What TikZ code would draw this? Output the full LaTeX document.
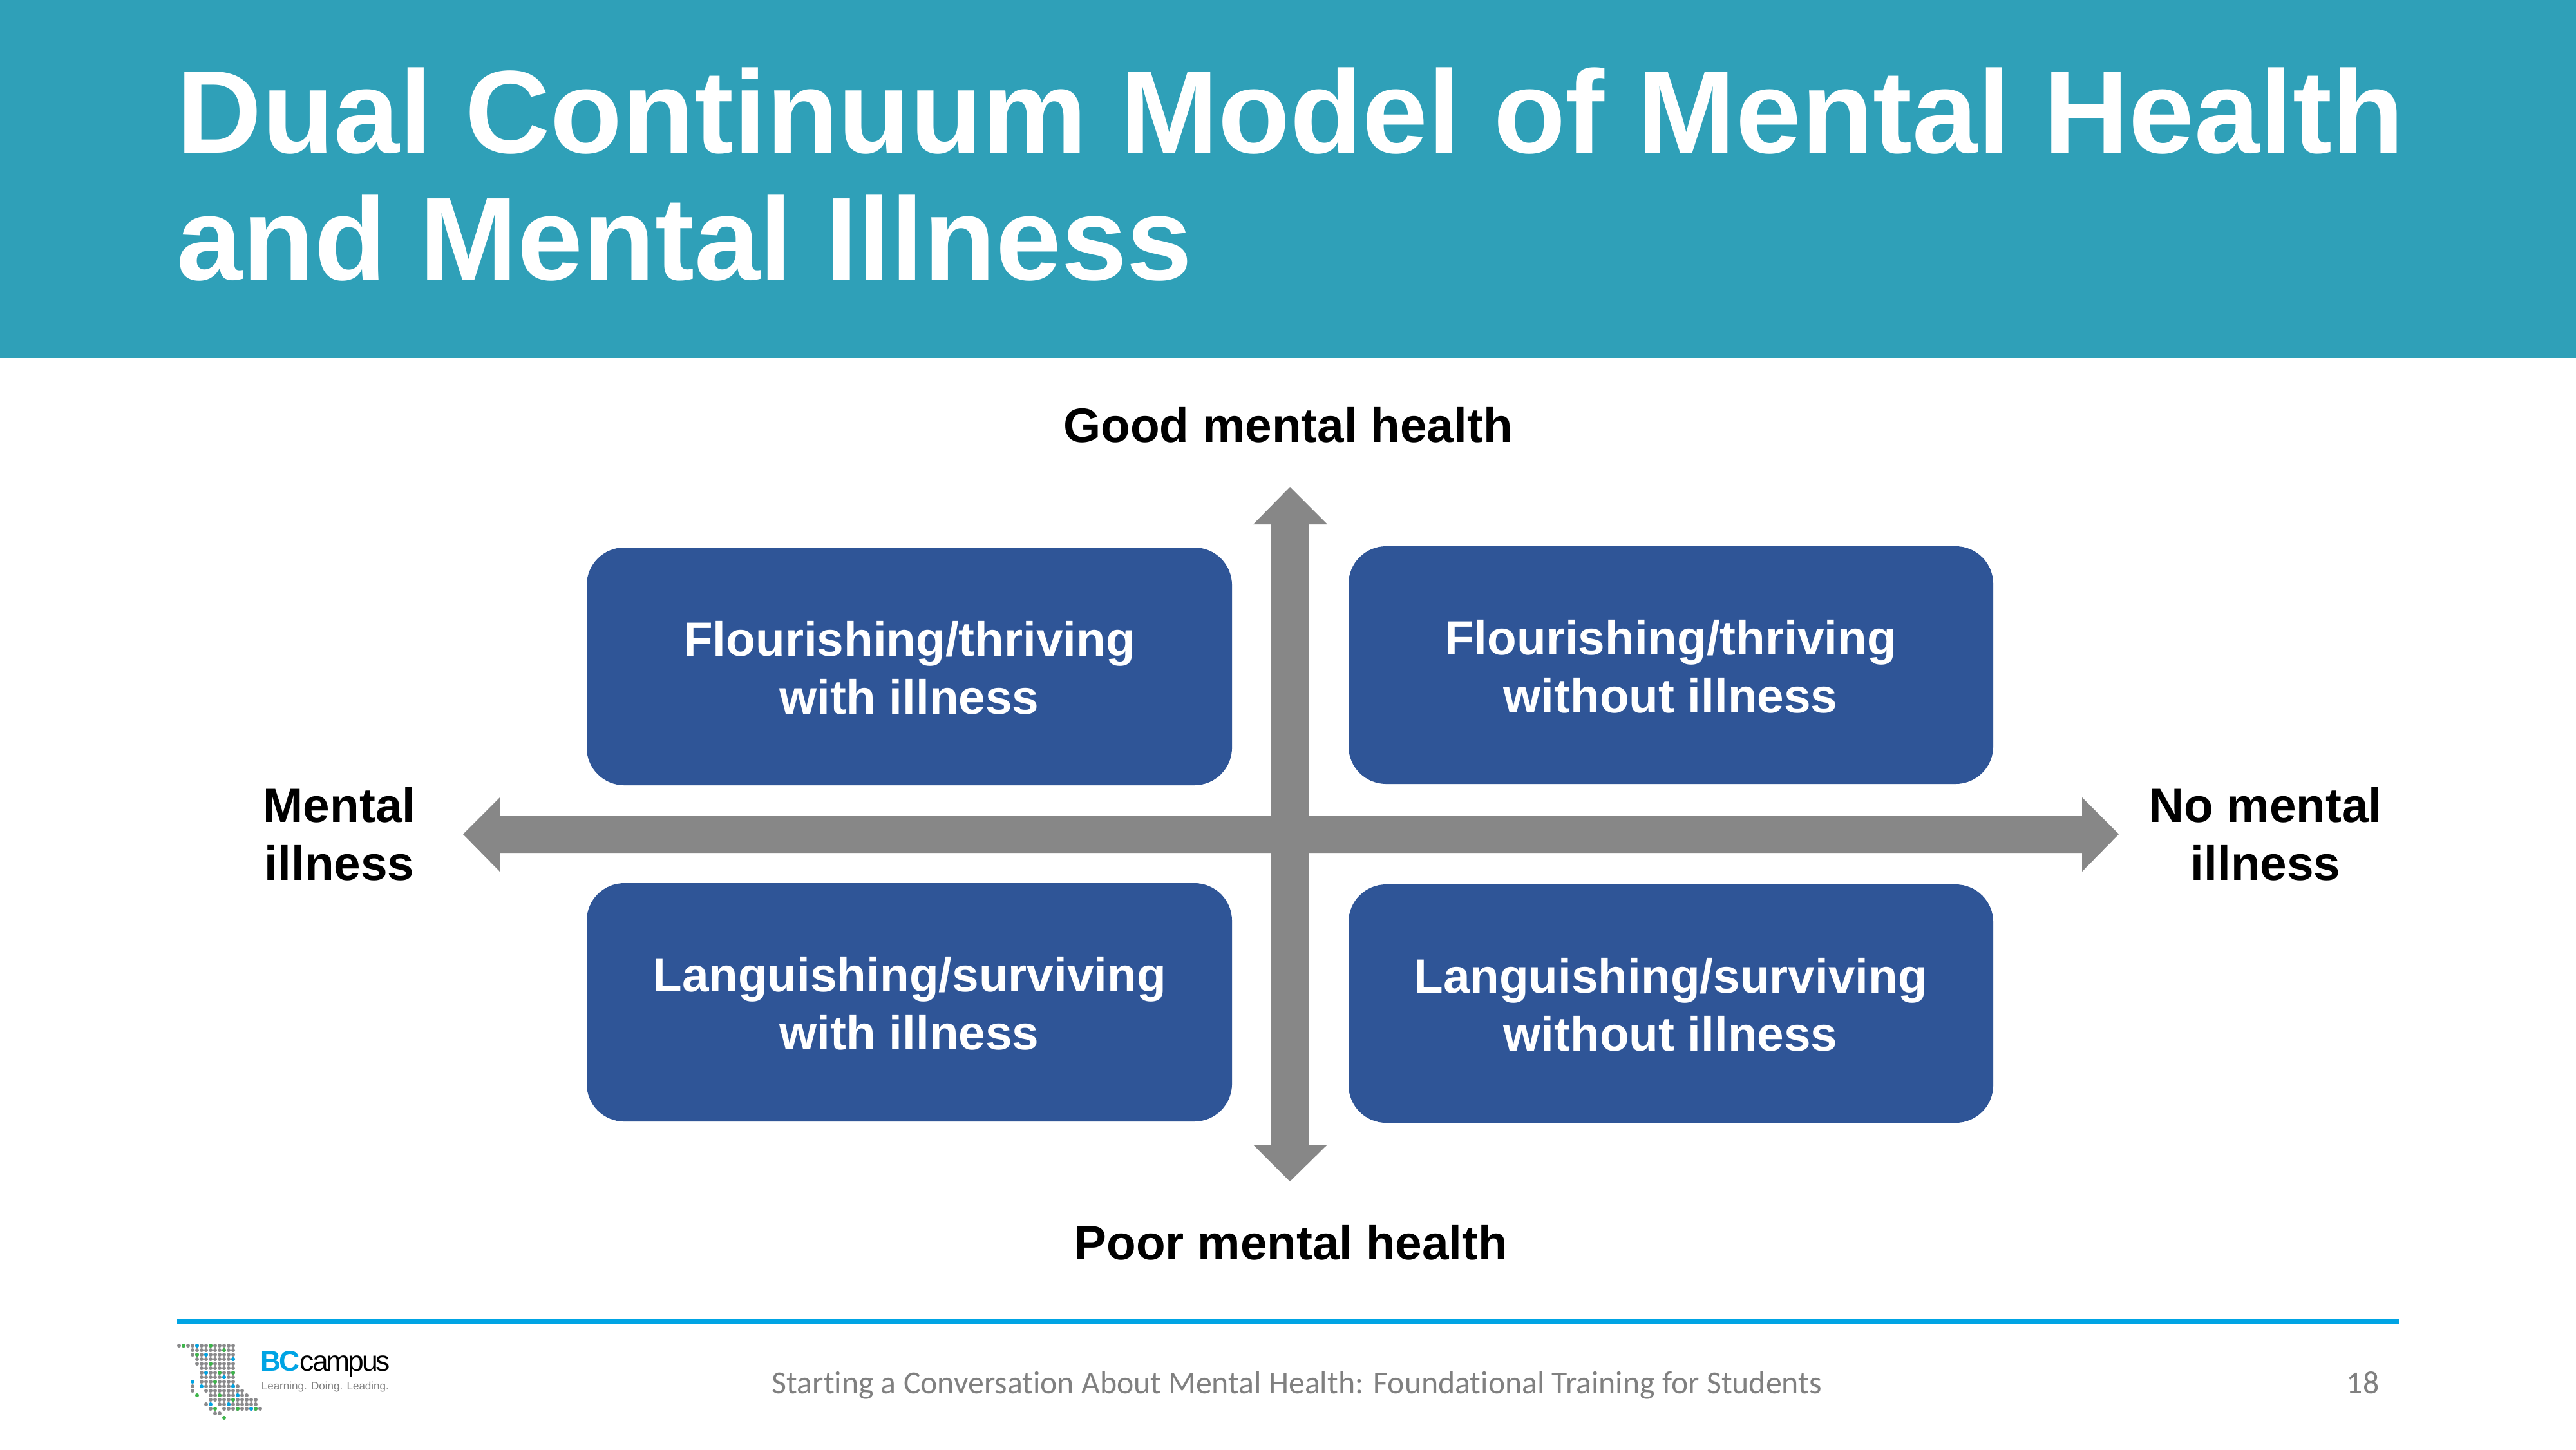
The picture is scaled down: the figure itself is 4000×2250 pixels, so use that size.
\documentclass[tikz,border=0pt]{standalone}
\usepackage{fontspec}
\setmainfont{Liberation Sans}
\newfontfamily\footfont[Ligatures=NoCommon]{Carlito}
\definecolor{teal0}{HTML}{2FA0B8}
\definecolor{box0}{HTML}{2F5597}
\definecolor{arrow0}{HTML}{878787}
\definecolor{rule0}{HTML}{00A4E4}
\definecolor{foot0}{HTML}{808080}
\definecolor{dotg}{HTML}{8A8A8C}
\definecolor{dotb}{HTML}{00A4E4}
\definecolor{dotn}{HTML}{3DB54A}
\tikzset{
  pxgrid/.style={x=0.24bp,y=-0.24bp},
  quad/.style={fill=box0,draw=none,rounded corners=14bp},
  quadtext/.style={font=\fontsize{18}{21.6}\selectfont\bfseries,text=white,align=center,inner sep=0pt},
  axislabel/.style={font=\fontsize{18}{21.6}\selectfont\bfseries,text=black,align=center,inner sep=0pt},
  titletext/.style={font=\fontsize{44.1}{47}\selectfont\bfseries,text=white,anchor=base west,inner sep=0pt},
  foottext/.style={font=\footfont\fontsize{12}{14}\selectfont,text=foot0,inner sep=0pt},
}
\begin{document}
\begin{tikzpicture}[pxgrid]
\useasboundingbox (0,0) rectangle (4000,2250);
\fill[white] (0,0) rectangle (4000,2250);
\fill[teal0] (0,0) rectangle (4000,555);
\node[titletext] (title1) at (274,237) {Dual Continuum Model of Mental Health};
\node[titletext] (title2) at (274,434) {and Mental Illness};
% quadrant boxes
\fill[quad] (911,850) rectangle (1913,1219);
\fill[quad] (2094,848) rectangle (3095,1217);
\fill[quad] (911,1371) rectangle (1913,1741);
\fill[quad] (2094,1373) rectangle (3095,1743);
\node[quadtext] (q1) at (1412,1037) {Flourishing/thriving\\with illness};
\node[quadtext] (q2) at (2594,1035) {Flourishing/thriving\\without illness};
\node[quadtext] (q3) at (1412,1558) {Languishing/surviving\\with illness};
\node[quadtext] (q4) at (2594,1560) {Languishing/surviving\\without illness};
% cross of arrows
\fill[arrow0] (2003,756) -- (2061,814) -- (2032,814) -- (2032,1266) -- (3233,1266) -- (3233,1238) -- (3290,1295) -- (3233,1353) -- (3233,1324) -- (2032,1324) -- (2032,1777) -- (2061,1777) -- (2003,1834) -- (1946,1777) -- (1974,1777) -- (1974,1324) -- (776,1324) -- (776,1353) -- (719,1295) -- (776,1238) -- (776,1266) -- (1974,1266) -- (1974,814) -- (1946,814) -- cycle;
% axis labels
\node[axislabel] (top) at (2000,660) {Good mental health};
\node[axislabel] (bottom) at (2005,1929) {Poor mental health};
\node[axislabel] (left) at (527,1295) {Mental\\illness};
\node[axislabel] (right) at (3518,1295) {No mental\\illness};
% footer
\fill[rule0] (275,2048) rectangle (3725,2055);
\node[foottext] (foot) at (2014,2150) {Starting a Conversation About Mental Health: Foundational Training for Students};
\node[foottext] (page) at (3669,2147) {18};
% logo dots
\foreach \r/\a/\b in {0/0/12,1/3/12,2/3/12,3/4/12,4/4/12,5/5/12,6/5/12,7/5/12,8/5/12,9/6/13,10/6/14,11/7/15,12/7/17,13/9/17,14/10/18,15/8/9}{
  \foreach \c in {\a,...,\b}{\fill[dotg] ({278+7*\c},{2089+7*\r}) circle (3);}
}
\foreach \c/\r in {3/9,3/10,6/13,7/14}{\fill[dotg] ({278+7*\c},{2089+7*\r}) circle (3);}
\foreach \c/\r in {4/0,6/2,12/3,6/6,10/7,3/8,5/9,12/9,13/11,7/13,11/13,16/14}{\fill[dotb] ({278+7*\c},{2089+7*\r}) circle (3);}
\foreach \c/\r in {1/0,7/0,10/1,4/2,7/4,9/6,12/6,8/8,4/11,9/11,12/12,8/14,13/14,17/14,10/16}{\fill[dotn] ({278+7*\c},{2089+7*\r}) circle (3);}
\node[anchor=base west,inner sep=0pt,font=\fontsize{10.7}{12}\selectfont\addfontfeature{LetterSpace=-7}] (logo) at (404,2128) {\textcolor{rule0}{\bfseries BC}\textcolor{black}{campus}};
\node[anchor=base west,inner sep=0pt,text=foot0,font=\fontsize{4.1}{5}\selectfont] (tag) at (405,2157) {Learning. Doing. Leading.};
\end{tikzpicture}
\end{document}
